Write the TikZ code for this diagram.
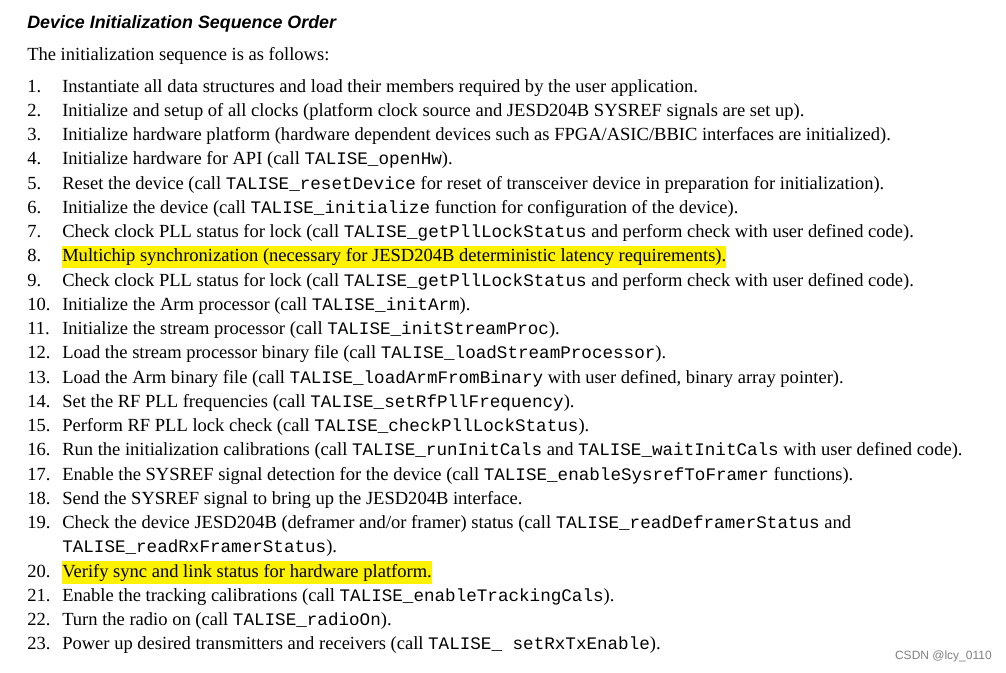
\documentclass[tikz,border=0pt]{standalone}
\usepackage{fontspec}
\setmainfont{Liberation Serif}
\setsansfont{Liberation Sans}
\setmonofont{Liberation Mono}
\newcommand{\mm}[1]{{\fontsize{13.2}{15}\ttfamily #1}}
\begin{document}
\begin{tikzpicture}[x=0.75pt,y=-0.75pt,
  txt/.style={anchor=base west,inner sep=0pt,font=\fontsize{13.9}{15}\selectfont},
  num/.style={txt},
  hl/.style={txt,fill=yellow,inner ysep=2pt}]
\useasboundingbox (0,0) rectangle (1006,672);
\node[txt,font=\fontsize{13.4}{15}\sffamily\bfseries\itshape] (title) at (27,28) {Device Initialization Sequence Order};
\node[txt] (intro) at (27,60) {The initialization sequence is as follows:};
\def\dy{24.26}
\foreach \i/\t in {
1/{Instantiate all data structures and load their members required by the user application.},
2/{Initialize and setup of all clocks (platform clock source and JESD204B SYSREF signals are set up).},
3/{Initialize hardware platform (hardware dependent devices such as FPGA/ASIC/BBIC interfaces are initialized).},
4/{Initialize hardware for API (call \mm{TALISE\_openHw}).},
5/{Reset the device (call \mm{TALISE\_resetDevice} for reset of transceiver device in preparation for initialization).},
6/{Initialize the device (call \mm{TALISE\_initialize} function for configuration of the device).},
7/{Check clock PLL status for lock (call \mm{TALISE\_getPllLockStatus} and perform check with user defined code).},
9/{Check clock PLL status for lock (call \mm{TALISE\_getPllLockStatus} and perform check with user defined code).},
10/{Initialize the Arm processor (call \mm{TALISE\_initArm}).},
11/{Initialize the stream processor (call \mm{TALISE\_initStreamProc}).},
12/{Load the stream processor binary file (call \mm{TALISE\_loadStreamProcessor}).},
13/{Load the Arm binary file (call \mm{TALISE\_loadArmFromBinary} with user defined, binary array pointer).},
14/{Set the RF PLL frequencies (call \mm{TALISE\_setRfPllFrequency}).},
15/{Perform RF PLL lock check (call \mm{TALISE\_checkPllLockStatus}).},
16/{Run the initialization calibrations (call \mm{TALISE\_runInitCals} and \mm{TALISE\_waitInitCals} with user defined code).},
17/{Enable the SYSREF signal detection for the device (call \mm{TALISE\_enableSysrefToFramer} functions).},
18/{Send the SYSREF signal to bring up the JESD204B interface.},
19/{Check the device JESD204B (deframer and/or framer) status (call \mm{TALISE\_readDeframerStatus} and}}
{\node[num] (n\i) at (27,{92+(\i-1)*\dy}) {\i.};
 \node[txt] (t\i) at (62,{92+(\i-1)*\dy}) {\t};}
\node[num] (n8) at (27,{92+7*\dy}) {8.};
\node[hl] (t8) at (62,{92+7*\dy}) {Multichip synchronization (necessary for JESD204B deterministic latency requirements).};
\node[txt] (t19b) at (62,{92+19*\dy}) {\mm{TALISE\_readRxFramerStatus}).};
\foreach \i/\t in {
21/{Enable the tracking calibrations (call \mm{TALISE\_enableTrackingCals}).},
22/{Turn the radio on (call \mm{TALISE\_radioOn}).},
23/{Power up desired transmitters and receivers (call \mm{TALISE\_ setRxTxEnable}).}}
{\node[num] (n\i) at (27,{92+\i*\dy}) {\i.};
 \node[txt] (t\i) at (62,{92+\i*\dy}) {\t};}
\node[num] (n20) at (27,{92+20*\dy}) {20.};
\node[hl] (t20) at (62,{92+20*\dy}) {Verify sync and link status for hardware platform.};
\node[anchor=base east,inner sep=0pt,text=gray,font=\fontsize{9}{10}\sffamily] (wm) at (992,659) {CSDN @lcy\_0110};
\end{tikzpicture}
\end{document}
